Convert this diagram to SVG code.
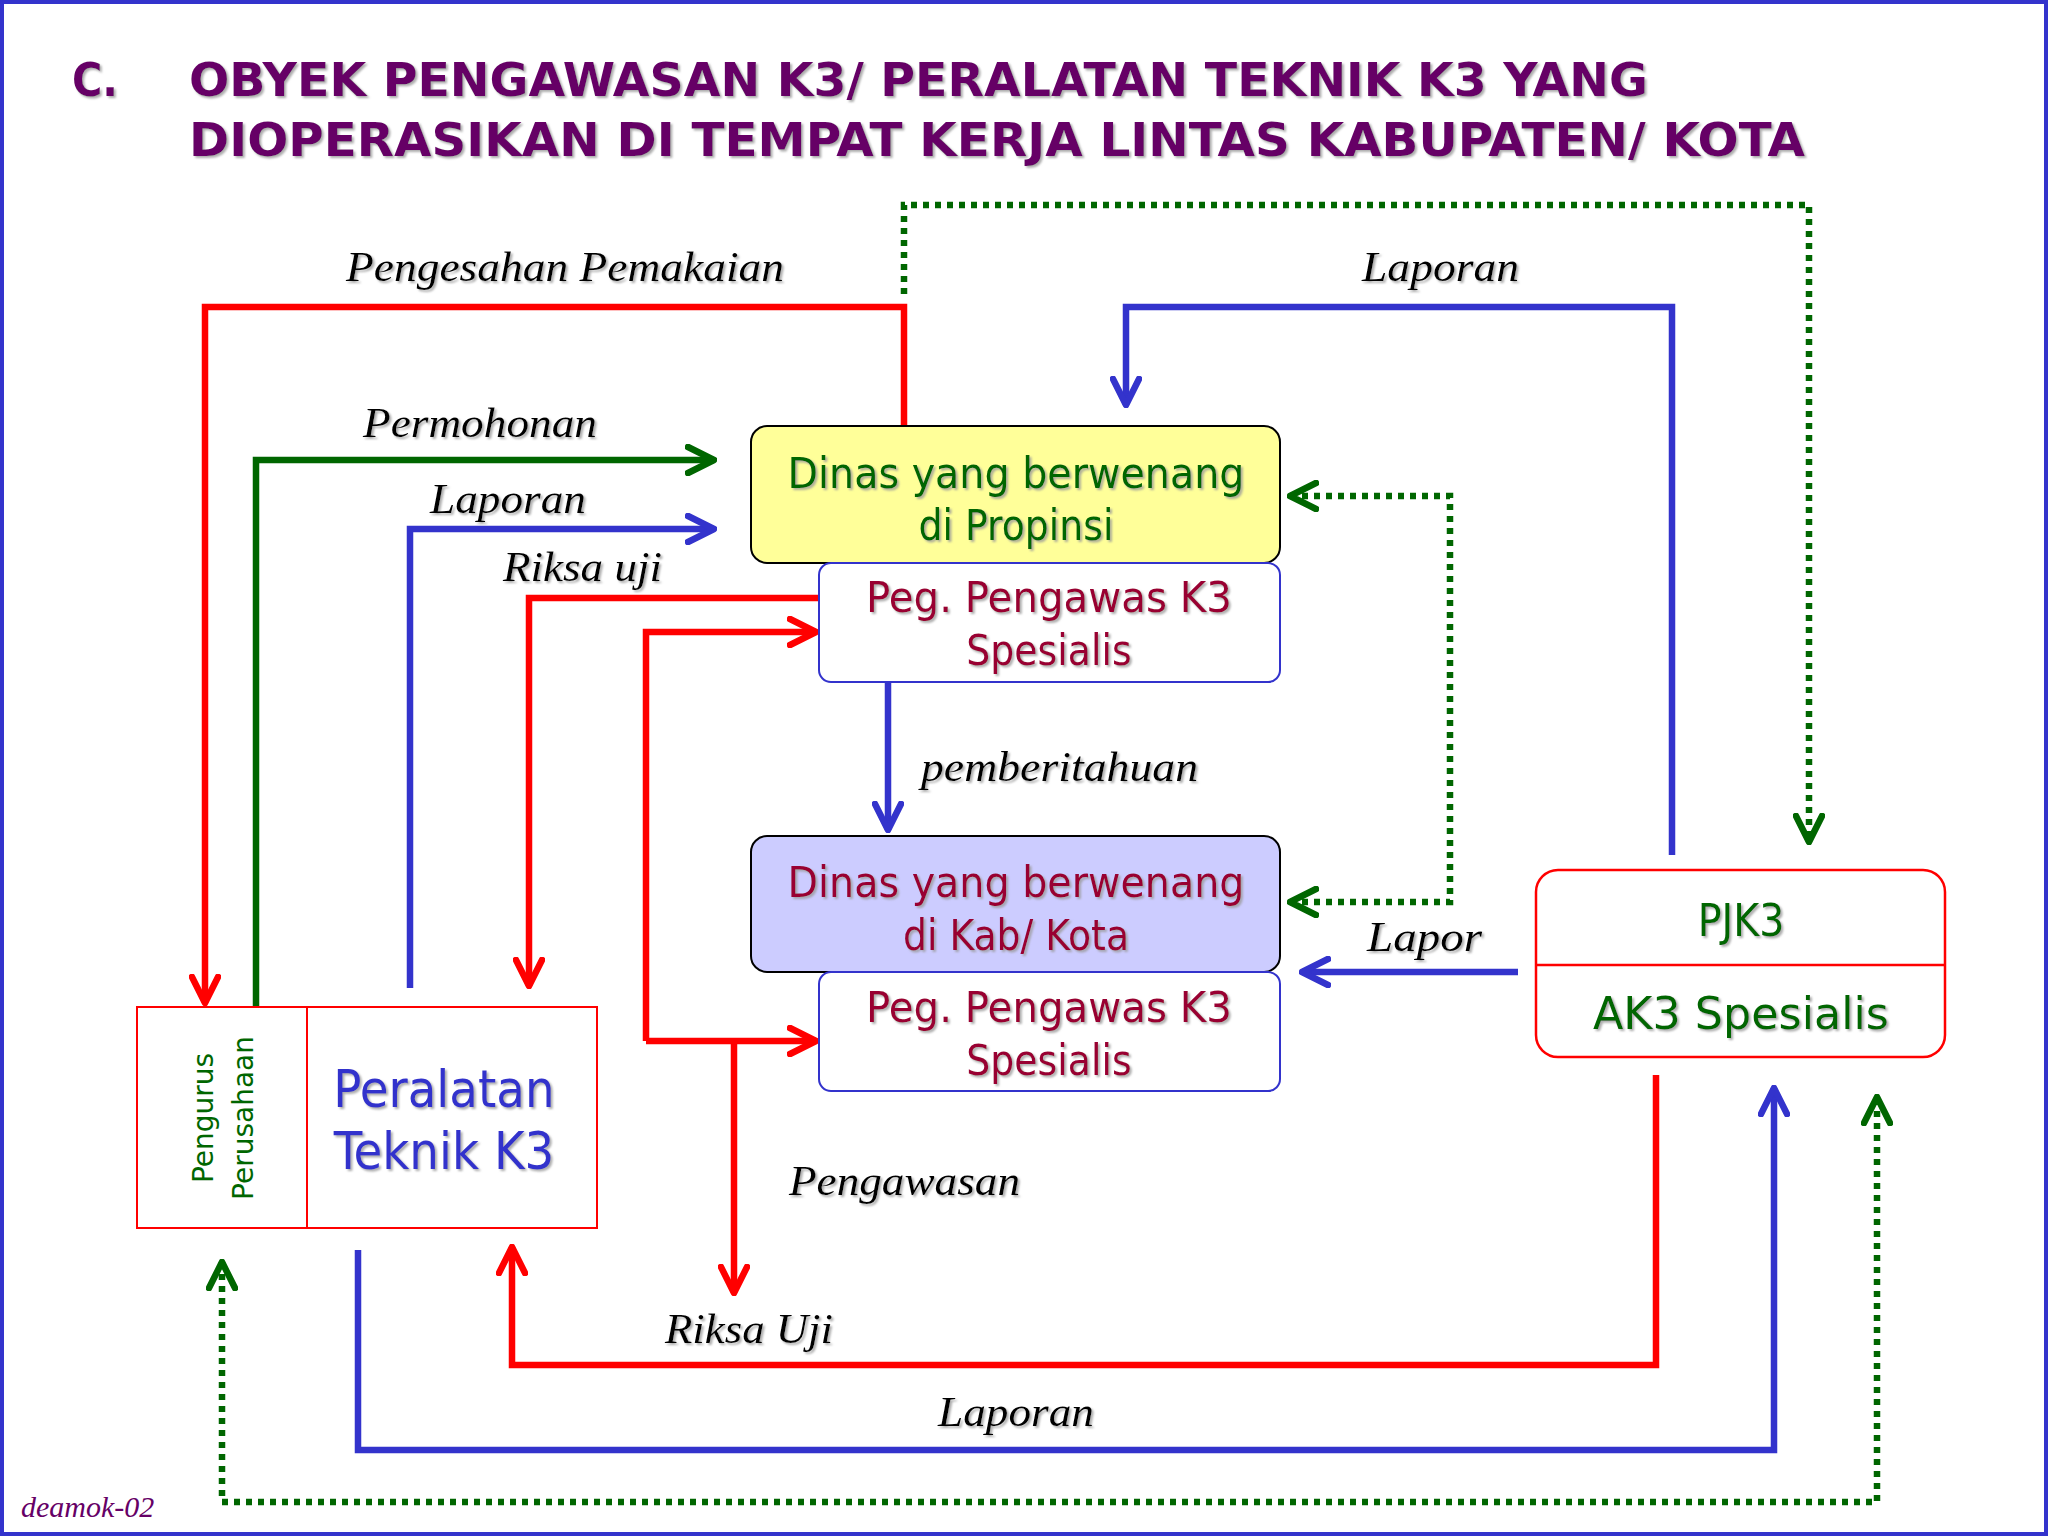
<svg xmlns="http://www.w3.org/2000/svg" width="2048" height="1536" viewBox="0 0 2048 1536">
<defs>
<style>
.t{font-family:"DejaVu Sans Condensed","DejaVu Sans",sans-serif;}
.lbl{font-family:"Liberation Serif",serif;font-style:italic;font-size:42px;fill:#000;}
.ln{fill:none;stroke-width:6.5;stroke-linejoin:miter;}
.r{stroke:#ff0000;} .b{stroke:#3333cc;} .g{stroke:#006600;}
.d{stroke:#006600;stroke-dasharray:6 6;}
.mk{fill:none;stroke-width:2;stroke-dasharray:none;stroke-linecap:round;stroke-linejoin:round;}
</style>
<filter id="sh" x="-5%" y="-20%" width="110%" height="140%"><feDropShadow dx="2" dy="2" stdDeviation="1" flood-color="#999" flood-opacity="0.8"/></filter>
<marker id="ar" viewBox="0 0 10 10" refX="9" refY="5" markerWidth="5" markerHeight="5" orient="auto" markerUnits="strokeWidth"><path class="mk" d="M1,1 L9,5 L1,9" stroke="#ff0000"/></marker>
<marker id="ab" viewBox="0 0 10 10" refX="9" refY="5" markerWidth="5" markerHeight="5" orient="auto" markerUnits="strokeWidth"><path class="mk" d="M1,1 L9,5 L1,9" stroke="#3333cc"/></marker>
<marker id="ag" viewBox="0 0 10 10" refX="9" refY="5" markerWidth="5" markerHeight="5" orient="auto" markerUnits="strokeWidth"><path class="mk" d="M1,1 L9,5 L1,9" stroke="#006600"/></marker>
<marker id="ags" viewBox="0 0 10 10" refX="9" refY="5" markerWidth="5" markerHeight="5" orient="auto-start-reverse" markerUnits="strokeWidth"><path class="mk" d="M1,1 L9,5 L1,9" stroke="#006600"/></marker>
</defs>
<rect x="0" y="0" width="2048" height="1536" fill="#fff"/>
<rect x="2" y="2" width="2044" height="1532" fill="none" stroke="#3333cc" stroke-width="4"/>
<g id="title" class="t" font-weight="bold" font-size="46" fill="#660066" filter="url(#sh)">
<text x="72" y="96">C.</text>
<text x="189" y="96" textLength="1459" lengthAdjust="spacingAndGlyphs">OBYEK PENGAWASAN K3/ PERALATAN TEKNIK K3 YANG</text>
<text x="189" y="156" textLength="1616" lengthAdjust="spacingAndGlyphs">DIOPERASIKAN DI TEMPAT KERJA LINTAS KABUPATEN/ KOTA</text>
</g>
<g id="connectors">
<path class="ln r" d="M904,426 V307 H205 V1003" marker-end="url(#ar)"/>
<path class="ln d" d="M904,294 V205 H1809 V842" marker-end="url(#ag)"/>
<path class="ln b" d="M1672,855 V307 H1126 V405" marker-end="url(#ab)"/>
<path class="ln g" d="M256,1007 V460 H714" marker-end="url(#ag)"/>
<path class="ln b" d="M410,988 V529 H714" marker-end="url(#ab)"/>
<path class="ln r" d="M819,598 H529 V986" marker-end="url(#ar)"/>
<path class="ln r" d="M646,1041 V632 H816" marker-end="url(#ar)"/>
<path class="ln r" d="M646,1041 H816" marker-end="url(#ar)"/>
<path class="ln r" d="M734,1041 V1293" marker-end="url(#ar)"/>
<path class="ln b" d="M888,682 V830" marker-end="url(#ab)"/>
<path class="ln d" d="M1290,496 H1450 V902 H1290" marker-start="url(#ags)" marker-end="url(#ags)"/>
<path class="ln b" d="M1518,972 H1302" marker-end="url(#ab)"/>
<path class="ln r" d="M1656,1075 V1365 H512 V1247" marker-end="url(#ar)"/>
<path class="ln b" d="M358,1250 V1450 H1774 V1088" marker-end="url(#ab)"/>
<path class="ln d" d="M222,1262 V1502 H1877 V1097" marker-start="url(#ags)" marker-end="url(#ags)"/>
</g>
<g id="labels" class="lbl" filter="url(#sh)">
<text x="346" y="281" textLength="438" lengthAdjust="spacingAndGlyphs">Pengesahan Pemakaian</text>
<text x="1362" y="281" textLength="157" lengthAdjust="spacingAndGlyphs">Laporan</text>
<text x="363" y="437" textLength="234" lengthAdjust="spacingAndGlyphs">Permohonan</text>
<text x="430" y="513" textLength="156" lengthAdjust="spacingAndGlyphs">Laporan</text>
<text x="503" y="581" textLength="159" lengthAdjust="spacingAndGlyphs">Riksa uji</text>
<text x="921" y="781" textLength="277" lengthAdjust="spacingAndGlyphs">pemberitahuan</text>
<text x="1367" y="951" textLength="115" lengthAdjust="spacingAndGlyphs">Lapor</text>
<text x="789" y="1195" textLength="231" lengthAdjust="spacingAndGlyphs">Pengawasan</text>
<text x="665" y="1343" textLength="168" lengthAdjust="spacingAndGlyphs">Riksa Uji</text>
<text x="938" y="1426" textLength="156" lengthAdjust="spacingAndGlyphs">Laporan</text>
</g>
<g id="dinas-propinsi">
<rect x="751" y="426" width="529" height="137" rx="16" fill="#ffff99" stroke="#000" stroke-width="2"/>
<g class="t" font-size="42" fill="#006600" text-anchor="middle" filter="url(#sh)">
<text x="1016" y="488" textLength="457" lengthAdjust="spacingAndGlyphs">Dinas yang berwenang</text>
<text x="1016" y="540">di Propinsi</text>
</g>
</g>
<g id="peg-propinsi">
<rect x="819" y="563" width="461" height="119" rx="12" fill="#fff" stroke="#3333cc" stroke-width="2"/>
<g class="t" font-size="42" fill="#990033" text-anchor="middle" filter="url(#sh)">
<text x="1049" y="612" textLength="366" lengthAdjust="spacingAndGlyphs">Peg. Pengawas K3</text>
<text x="1049" y="665">Spesialis</text>
</g>
</g>
<g id="dinas-kab">
<rect x="751" y="836" width="529" height="136" rx="16" fill="#ccccff" stroke="#000" stroke-width="2"/>
<g class="t" font-size="42" fill="#990033" text-anchor="middle" filter="url(#sh)">
<text x="1016" y="897" textLength="457" lengthAdjust="spacingAndGlyphs">Dinas yang berwenang</text>
<text x="1016" y="950">di Kab/ Kota</text>
</g>
</g>
<g id="peg-kab">
<rect x="819" y="972" width="461" height="119" rx="12" fill="#fff" stroke="#3333cc" stroke-width="2"/>
<g class="t" font-size="42" fill="#990033" text-anchor="middle" filter="url(#sh)">
<text x="1049" y="1022" textLength="366" lengthAdjust="spacingAndGlyphs">Peg. Pengawas K3</text>
<text x="1049" y="1075">Spesialis</text>
</g>
</g>
<g id="pjk3">
<rect x="1536" y="870" width="409" height="187" rx="22" fill="#fff" stroke="#ff0000" stroke-width="2.5"/>
<line x1="1536" y1="965" x2="1945" y2="965" stroke="#ff0000" stroke-width="2.5"/>
<g class="t" font-size="44" fill="#006600" text-anchor="middle" filter="url(#sh)">
<text x="1741" y="936">PJK3</text>
<text x="1741" y="1029" textLength="296" lengthAdjust="spacingAndGlyphs">AK3 Spesialis</text>
</g>
</g>
<g id="peralatan">
<rect x="137" y="1007" width="460" height="221" fill="#fff" stroke="#ff0000" stroke-width="2"/>
<line x1="307" y1="1007" x2="307" y2="1228" stroke="#ff0000" stroke-width="2"/>
<g font-family="DejaVu Sans, sans-serif" font-size="28" fill="#006600" text-anchor="middle">
<text transform="translate(213,1118) rotate(-90)">Pengurus</text>
<text transform="translate(253,1118) rotate(-90)">Perusahaan</text>
</g>
<g class="t" font-size="52" fill="#3333cc" text-anchor="middle" filter="url(#sh)">
<text x="444" y="1107">Peralatan</text>
<text x="444" y="1169">Teknik K3</text>
</g>
</g>
<text x="21" y="1517" font-family="Liberation Serif, serif" font-style="italic" font-size="30" fill="#660066">deamok-02</text>
</svg>
